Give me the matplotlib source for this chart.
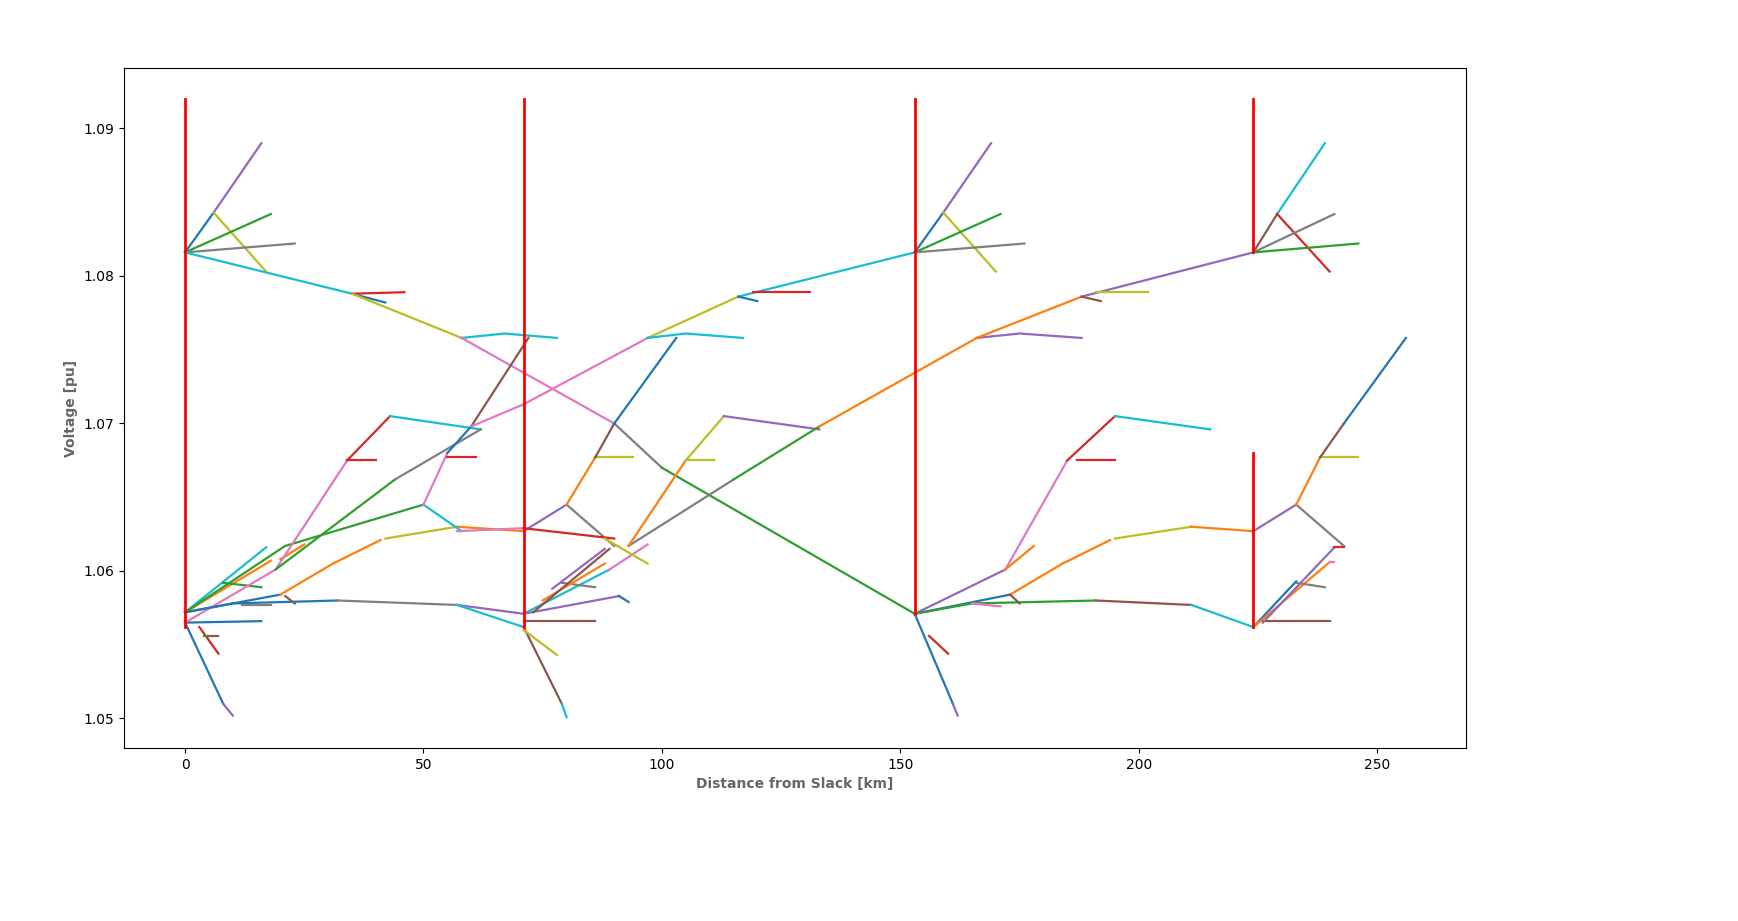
import matplotlib
matplotlib.use("Agg")
import matplotlib.pyplot as plt

# voltage profile polylines: (color, x list [km], v list [pu])
C = {'b':'#1f77b4','o':'#ff7f0e','g':'#2ca02c','r':'#d62728','p':'#9467bd',
     'br':'#8c564b','pk':'#e377c2','gy':'#7f7f7f','y':'#bcbd22','c':'#17becf'}
lines = [
 # feeder 0 top
 ('b',[0,6],[1.0816,1.0843]),('p',[6,16],[1.0843,1.0890]),('y',[6,17],[1.0843,1.0803]),
 ('g',[0,18],[1.0816,1.0842]),('gy',[0,23],[1.0816,1.0822]),
 ('c',[0,35],[1.0816,1.0788]),('b',[35,42],[1.0788,1.0782]),('r',[35,46],[1.0788,1.0789]),
 ('y',[35,58],[1.0788,1.0758]),('c',[58,67,78],[1.0758,1.0761,1.0758]),
 ('pk',[58,90],[1.0758,1.0700]),('gy',[90,100],[1.0700,1.0670]),('g',[100,153],[1.0670,1.0571]),
 # feeder 0 bottom
 ('b',[0,16],[1.0565,1.0566]),('b',[0,8],[1.0565,1.0510]),('p',[8,10],[1.0510,1.0502]),
 ('r',[3,7],[1.0562,1.0544]),('g',[4,5],[1.0556,1.0556]),('br',[5,7],[1.0556,1.0556]),
 ('b',[0,20],[1.0572,1.0584]),('o',[20,31,41],[1.0584,1.0605,1.0621]),
 ('y',[42,57],[1.0622,1.0630]),('o',[57,71],[1.0630,1.0627]),
 ('c',[0,17],[1.0572,1.0616]),('o',[0,18],[1.0572,1.0607]),('o',[20,25],[1.0608,1.0618]),
 ('g',[0,21,50],[1.0572,1.0617,1.0645]),('c',[50,58],[1.0645,1.0627]),
 ('g',[8,16],[1.0592,1.0589]),
 ('pk',[0,19,34],[1.0565,1.0601,1.0675]),('r',[34,43],[1.0675,1.0705]),('c',[43,62],[1.0705,1.0696]),
 ('r',[34,40],[1.0675,1.0675]),
 ('g',[19,44],[1.0601,1.0662]),('gy',[44,62],[1.0662,1.0696]),
 ('pk',[50,55],[1.0645,1.0680]),('b',[55,60],[1.0680,1.0698]),('br',[60,72],[1.0698,1.0758]),
 ('r',[55,61],[1.0677,1.0677]),('pk',[60,71],[1.0698,1.0713]),('pk',[71,97],[1.0713,1.0758]),
 ('b',[0,10,32],[1.0572,1.0578,1.0580]),('gy',[32,57],[1.0580,1.0577]),('p',[57,71],[1.0577,1.0571]),
 ('c',[57,71],[1.0577,1.0562]),('gy',[12,18],[1.0577,1.0577]),('br',[21,23],[1.0583,1.0578]),
 ('pk',[57,71],[1.0627,1.0629]),
 # feeder 71
 ('p',[71,80],[1.0627,1.0645]),('gy',[80,90],[1.0645,1.0617]),('r',[71,90],[1.0629,1.0622]),
 ('o',[80,86],[1.0645,1.0677]),('y',[86,94],[1.0677,1.0677]),('br',[86,90],[1.0677,1.0700]),
 ('b',[90,103],[1.0700,1.0758]),
 ('c',[71,89],[1.0571,1.0601]),('pk',[89,97],[1.0601,1.0618]),('y',[88,97],[1.0622,1.0605]),
 ('p',[71,91],[1.0571,1.0583]),('b',[91,93],[1.0583,1.0579]),
 ('br',[71,86],[1.0566,1.0566]),('br',[71,79],[1.0562,1.0510]),('c',[79,80],[1.0510,1.0501]),
 ('y',[71,78],[1.0560,1.0543]),('gy',[79,86],[1.0592,1.0589]),('o',[75,88],[1.0580,1.0605]),
 ('br',[73,89],[1.0572,1.0615]),('p',[77,88],[1.0588,1.0615]),
 ('gy',[93,115],[1.0617,1.0662]),('o',[93,105],[1.0617,1.0675]),('y',[105,113],[1.0675,1.0705]),
 ('p',[113,133],[1.0705,1.0696]),('y',[105,111],[1.0675,1.0675]),
 ('g',[115,133],[1.0662,1.0698]),('o',[133,166],[1.0698,1.0758]),
 ('y',[97,116],[1.0758,1.0786]),('c',[116,153],[1.0786,1.0816]),('b',[116,120],[1.0786,1.0783]),
 ('r',[119,131],[1.0789,1.0789]),('c',[97,105,117],[1.0758,1.0761,1.0758]),
 # feeder 153
 ('b',[153,159],[1.0816,1.0843]),('p',[159,169],[1.0843,1.0890]),('y',[159,170],[1.0843,1.0803]),
 ('g',[153,171],[1.0816,1.0842]),('gy',[153,176],[1.0816,1.0822]),
 ('p',[153,172],[1.0571,1.0601]),('pk',[172,185],[1.0601,1.0675]),('r',[185,195],[1.0675,1.0705]),
 ('c',[195,215],[1.0705,1.0696]),('r',[187,195],[1.0675,1.0675]),('o',[172,178],[1.0601,1.0617]),
 ('b',[153,173],[1.0571,1.0584]),('o',[173,184,194],[1.0584,1.0605,1.0621]),
 ('y',[195,211],[1.0622,1.0630]),('o',[211,224],[1.0630,1.0627]),
 ('g',[153,165,191],[1.0571,1.0578,1.0580]),('br',[191,211],[1.0580,1.0577]),('c',[211,224],[1.0577,1.0562]),
 ('b',[153,161],[1.0571,1.0510]),('p',[161,162],[1.0510,1.0502]),('r',[156,160],[1.0556,1.0544]),
 ('pk',[165,171],[1.0578,1.0576]),('br',[173,175],[1.0584,1.0578]),
 ('p',[166,175,188],[1.0758,1.0761,1.0758]),('o',[166,188],[1.0758,1.0786]),
 ('p',[188,224],[1.0786,1.0816]),('br',[188,192],[1.0786,1.0783]),('y',[191,202],[1.0789,1.0789]),
 # feeder 224
 ('br',[224,229],[1.0816,1.0842]),('c',[229,239],[1.0842,1.0890]),('r',[229,240],[1.0842,1.0803]),
 ('gy',[224,241],[1.0816,1.0842]),('g',[224,246],[1.0816,1.0822]),
 ('p',[224,233],[1.0627,1.0645]),('gy',[233,243],[1.0645,1.0617]),('o',[233,238],[1.0645,1.0677]),
 ('y',[238,246],[1.0677,1.0677]),('br',[238,243],[1.0677,1.0700]),('b',[243,256],[1.0700,1.0758]),
 ('b',[224,233],[1.0562,1.0593]),('o',[224,240],[1.0562,1.0606]),('pk',[240,241],[1.0606,1.0606]),
 ('br',[226,240],[1.0566,1.0566]),('gy',[233,239],[1.0592,1.0589]),
 ('p',[226,241],[1.0565,1.0616]),('r',[241,243],[1.0616,1.0616]),
]
slack_x = [0, 71, 153, 224, 224]
slack_lo = [1.0562, 1.0562, 1.0571, 1.0816, 1.0562]
slack_hi = [1.092, 1.092, 1.092, 1.092, 1.068]

fig, ax = plt.subplots(figsize=(17.38, 9.21), dpi=100)
fig.subplots_adjust(left=0.0713, right=0.8435, top=0.926, bottom=0.188)
for c, xs, vs in lines:
    ax.plot(xs, vs, color=C[c], lw=1.6)
for x, lo, hi in zip(slack_x, slack_lo, slack_hi):
    ax.plot([x, x], [lo, hi], color='red', lw=2)
ax.set_xlim(-12.8, 268.6)
ax.set_ylim(1.048, 1.0941)
ax.set_xticks([0, 50, 100, 150, 200, 250])
ax.set_yticks([1.05, 1.06, 1.07, 1.08, 1.09])
ax.set_xlabel("Distance from Slack [km]", fontweight='bold', color='#666666')
ax.set_ylabel("Voltage [pu]", fontweight='bold', color='#666666')
fig.set_size_inches(17.38, 9.21)
fig.subplots_adjust(left=124/1738, right=1466/1738, top=1-68/921, bottom=1-748/921)
fig.savefig("out.png", dpi=100)
